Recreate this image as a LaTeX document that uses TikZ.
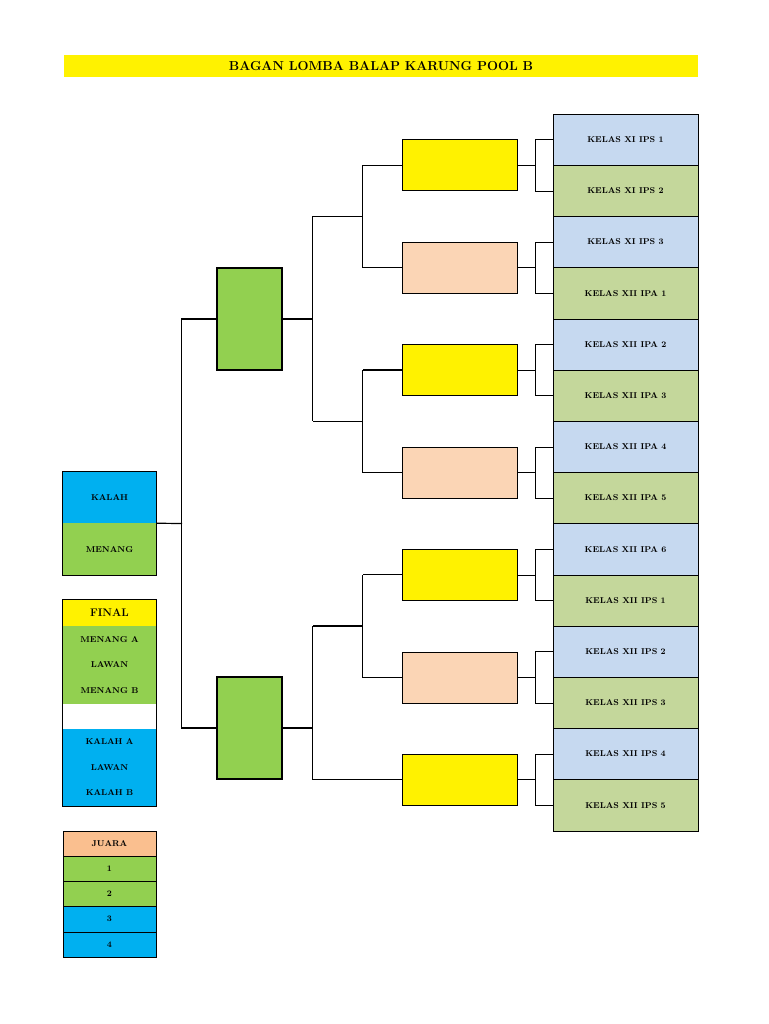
\documentclass[tikz,border=0pt]{standalone}
\usepackage{tikz}
\definecolor{teamblue}{HTML}{C6D9F0}
\definecolor{teamgreen}{HTML}{C4D79B}
\definecolor{peach}{HTML}{FBD5B5}
\definecolor{juarapeach}{HTML}{FABF8F}
\definecolor{lgreen}{HTML}{92D050}
\definecolor{skyblue}{HTML}{00B0F0}
\tikzset{
 team/.style={draw, minimum width=145pt, minimum height=51.2pt, inner sep=0pt, font=\bfseries\fontsize{8.5}{10}\selectfont},
 round/.style={draw, minimum width=115pt, minimum height=51pt, inner sep=0pt},
 semi/.style={draw, line width=1.3pt, fill=lgreen, minimum width=65pt, minimum height=102pt, inner sep=0pt},
 cell/.style={minimum width=93pt, inner sep=0pt, font=\bfseries\fontsize{8.5}{10}\selectfont},
 wire/.style={line width=0.5pt},
 bwire/.style={line width=1.2pt}
}
\begin{document}
\begin{tikzpicture}[x=1pt,y=-1pt]
\useasboundingbox (0,0) rectangle (768,1024);

% title
\fill[yellow] (64,55) rectangle (698,77);
\node (title) at (381,66) {\bfseries\fontsize{13}{15}\selectfont BAGAN LOMBA BALAP KARUNG POOL B};

% teams
\foreach \t [count=\i from 0] in {KELAS XI IPS 1,KELAS XI IPS 2,KELAS XI IPS 3,KELAS XII IPA 1,KELAS XII IPA 2,KELAS XII IPA 3,KELAS XII IPA 4,KELAS XII IPA 5,KELAS XII IPA 6,KELAS XII IPS 1,KELAS XII IPS 2,KELAS XII IPS 3,KELAS XII IPS 4,KELAS XII IPS 5}
{
  \pgfmathsetmacro\yy{114+51.2*\i+25.6}
  \pgfmathtruncatemacro\odd{mod(\i,2)}
  \ifnum\odd=0 \def\tc{teamblue}\else\def\tc{teamgreen}\fi
  \node[team, fill=\tc] (t\i) at (625.5,\yy) {\t};
}

% first round boxes
\foreach \i/\c in {0/yellow,1/peach,2/yellow,3/peach,4/yellow,5/peach,6/yellow}
{
  \pgfmathsetmacro\yy{114+51.2*(2*\i+1)}
  \node[round, fill=\c] (r\i) at (459.5,\yy) {};
  \pgfmathtruncatemacro\a{2*\i}
  \pgfmathtruncatemacro\b{2*\i+1}
  \draw[wire] (r\i.east) -- ++(18,0) coordinate (j\i);
  \draw[wire] (t\a.west) -| (j\i) |- (t\b.west);
}

% semifinal boxes
\node[semi] (sA) at (249.5,319) {};
\node[semi] (sB) at (249.5,728) {};

% second round wiring
\foreach \p/\q in {0/1,2/3,4/5}
{
  \draw[bwire] (r\p.west) -- ++(-39,0) coordinate (m\p);
  \draw[bwire] (r\q.west) -| (m\p);
}
\draw[bwire] (r0.west) ++(-39,51.2) -- ++(-50,0) coordinate (v0);
\draw[bwire] (r2.west) ++(-39,51.2) -- ++(-50,0) coordinate (v1);
\draw[bwire] (r4.west) ++(-39,51.2) -- ++(-50,0) coordinate (v2);
\draw[bwire] (r6.west) -- ++(-89,0) coordinate (v3);
\draw[bwire] (v0) -- (v1);
\draw[bwire] (v2) -- (v3);
\draw[bwire] (sA.east) -- (313,319);
\draw[bwire] (sB.east) -- (313,728);

% final box
\node[cell, fill=skyblue, minimum height=51.5pt] (kalah) at (109.5,497.7) {KALAH};
\node[cell, fill=lgreen, minimum height=51.5pt] (menang) at (109.5,549.2) {MENANG};
\draw[line width=1.3pt] (kalah.north west) rectangle (menang.south east);
\draw[bwire] (sA.west) -- ++(-35,0) coordinate (fA);
\draw[bwire] (sB.west) -- ++(-35,0) coordinate (fB);
\draw[bwire] (fA) -- (fB);
\draw[bwire] (menang.north east) -- (182,523.5);

% final legend
\node[cell, fill=yellow, minimum height=26pt, font=\bfseries\fontsize{11}{13}\selectfont] (final) at (109.5,613) {FINAL};
\node[cell, fill=lgreen, minimum height=78pt, align=center, font=\bfseries\fontsize{8.5}{25.5}\selectfont] (mab) at (109.5,665) {MENANG A\\LAWAN\\MENANG B};
\node[cell, fill=white, minimum height=25pt] (gap) at (109.5,716.5) {};
\node[cell, fill=skyblue, minimum height=77pt, align=center, font=\bfseries\fontsize{8.5}{25.5}\selectfont] (kab) at (109.5,767.5) {KALAH A\\LAWAN\\KALAH B};
\draw[line width=1.3pt] (final.north west) rectangle (kab.south east);

% juara table
\foreach \t/\c [count=\i from 0] in {JUARA/juarapeach,1/lgreen,2/lgreen,3/skyblue,4/skyblue}
{
  \pgfmathsetmacro\yy{831+25.2*\i+12.6}
  \node[cell, draw, fill=\c, minimum height=25.2pt] (j\t) at (109.5,\yy) {\t};
}
\end{tikzpicture}
\end{document}
